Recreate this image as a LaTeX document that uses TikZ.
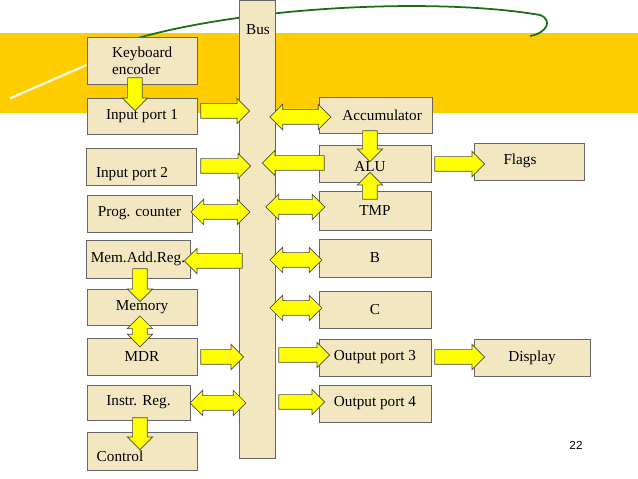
\documentclass[tikz,border=0pt]{standalone}
\usepackage{fontspec}
\setmainfont{Liberation Serif}
\newfontfamily\sansf{Liberation Sans}
\usetikzlibrary{shapes.arrows,calc}
\definecolor{boxfill}{HTML}{F3E7C2}
\definecolor{band}{HTML}{FFCC00}
\definecolor{arr}{HTML}{FFFF00}
\definecolor{curve}{HTML}{1A6E1A}
\tikzset{
  box/.style={draw=gray!80!black,fill=boxfill,line width=0.8pt,inner sep=0pt},
  lbl/.style={font=\fontsize{13}{15}\selectfont,inner sep=0pt},
  sa/.style={single arrow,draw=black!70,fill=arr,line width=0.6pt,inner sep=0pt,text height=0.42cm,text depth=0pt,text width=0pt,single arrow head extend=0.16cm,single arrow head indent=0pt},
  da/.style={double arrow,draw=black!70,fill=arr,line width=0.6pt,inner sep=0pt,text height=0.42cm,text depth=0pt,text width=0pt,double arrow head extend=0.16cm},
}
\newcommand{\bx}[5]{\node[box,minimum width=#4*0.03cm-#2*0.03cm,minimum height=#5*0.03cm-#3*0.03cm] (#1) at ({(#2+#4)/2*0.03},{-(#3+#5)/2*0.03}) {};}
\newcommand{\ar}[6]{\path let \p1=({#5*0.03-#3*0.03},{-#6*0.03+#4*0.03}) in node[#2,minimum height={veclen(\x1,\y1)},rotate={atan2(\y1,\x1)}] (#1) at ({(#3+#5)/2*0.03},{-(#4+#6)/2*0.03}) {};}
\begin{document}
\begin{tikzpicture}
\useasboundingbox (0,0) rectangle (19.14,-14.34);
\fill[white] (0,0) rectangle (19.14,-14.34);
\fill[band] (0,-1.0) rectangle (19.14,-3.4);
\draw[curve,line width=1.5pt] (3.6,-1.3) .. controls (7,-0.2) and (13,0.1) .. (16.2,-0.45) .. controls (16.6,-0.6) and (16.4,-1.0) .. (15.9,-1.08);
\draw[white!85!band,line width=2pt] (0.3,-2.95) -- (2.6,-1.95);
\node[box,minimum width=1.08cm,minimum height=13.74cm] (bus) at (7.71,-6.87) {};
\bx{kb}{87}{37}{197}{84}
\bx{ip1}{87}{98}{197}{134}
\bx{ip2}{86}{148}{196}{185}
\bx{pc}{87}{195}{192}{232}
\bx{mar}{86}{240}{190}{278}
\bx{mem}{87}{289}{197}{325}
\bx{mdr}{87}{338}{197}{375}
\bx{ir}{87}{385}{190}{420}
\bx{ctl}{87}{432}{197}{470}
\bx{acc}{319}{97}{432}{133}
\bx{alu}{319}{145}{431}{182}
\bx{tmp}{319}{191}{431}{230}
\bx{b}{319}{239}{431}{277}
\bx{c}{319}{291}{431}{328}
\bx{op3}{319}{339}{431}{376}
\bx{op4}{319}{385}{431}{422}
\bx{fl}{474}{143}{584}{180}
\bx{dsp}{474}{339}{590}{376}
% arrows
\ar{a1}{sa}{135}{74}{135}{107}
\ar{a2}{sa}{197}{111}{246}{111}
\ar{a3}{da}{270}{117}{331}{117}
\ar{a4}{sa}{370}{127}{370}{158}
\ar{a5}{sa}{370}{203}{370}{176}
\ar{a6}{sa}{431}{164}{481}{164}
\ar{a7}{sa}{197}{166}{247}{166}
\ar{a8}{sa}{328}{163}{266}{163}
\ar{a9}{da}{191}{212}{250}{212}
\ar{a10}{da}{266}{207}{325}{207}
\ar{a11}{sa}{246}{261}{188}{261}
\ar{a12}{da}{270}{260}{322}{260}
\ar{a13}{sa}{140}{265}{140}{298}
\ar{a14}{da}{140}{316}{140}{347}
\ar{a15}{da}{270}{308}{322}{308}
\ar{a16}{sa}{197}{357}{240}{357}
\ar{a17}{sa}{275}{355}{326}{355}
\ar{a18}{sa}{431}{357}{481}{357}
\ar{a19}{da}{190}{403}{246}{403}
\ar{a20}{sa}{275}{402}{321}{402}
\ar{a21}{sa}{140}{414}{140}{446}
% labels
\node[lbl] (bust) at (7.74,-0.9) {Bus};
\node[lbl,align=left,anchor=west] (kbt) at (3.36,-1.83) {Keyboard\\encoder};
\node[lbl] at (ip1) {Input port 1};
\node[lbl] (ip2t) at (3.96,-5.22) {Input port 2};
\node[lbl] at (pc) {Prog. counter};
\node[lbl] at (mar) {Mem.Add.Reg.};
\node[lbl] at (mem) {Memory};
\node[lbl] at (mdr) {MDR};
\node[lbl] at (ir) {Instr. Reg.};
\node[lbl] (ctlt) at (3.6,-13.68) {Control};
\node[lbl] at ($(acc)+(0.2,0)$) {Accumulator};
\node[lbl] (alut) at (11.1,-5.0) {ALU};
\node[lbl] at (tmp) {TMP};
\node[lbl] at (b) {B};
\node[lbl] at (c) {C};
\node[lbl] at (op3) {Output port 3};
\node[lbl] at (op4) {Output port 4};
\node[lbl] (flt) at (15.6,-4.83) {Flags};
\node[lbl] at (dsp) {Display};
\node[font=\sansf\fontsize{10}{12}\selectfont] (pg) at (17.28,-13.35) {22};
\end{tikzpicture}
\end{document}
